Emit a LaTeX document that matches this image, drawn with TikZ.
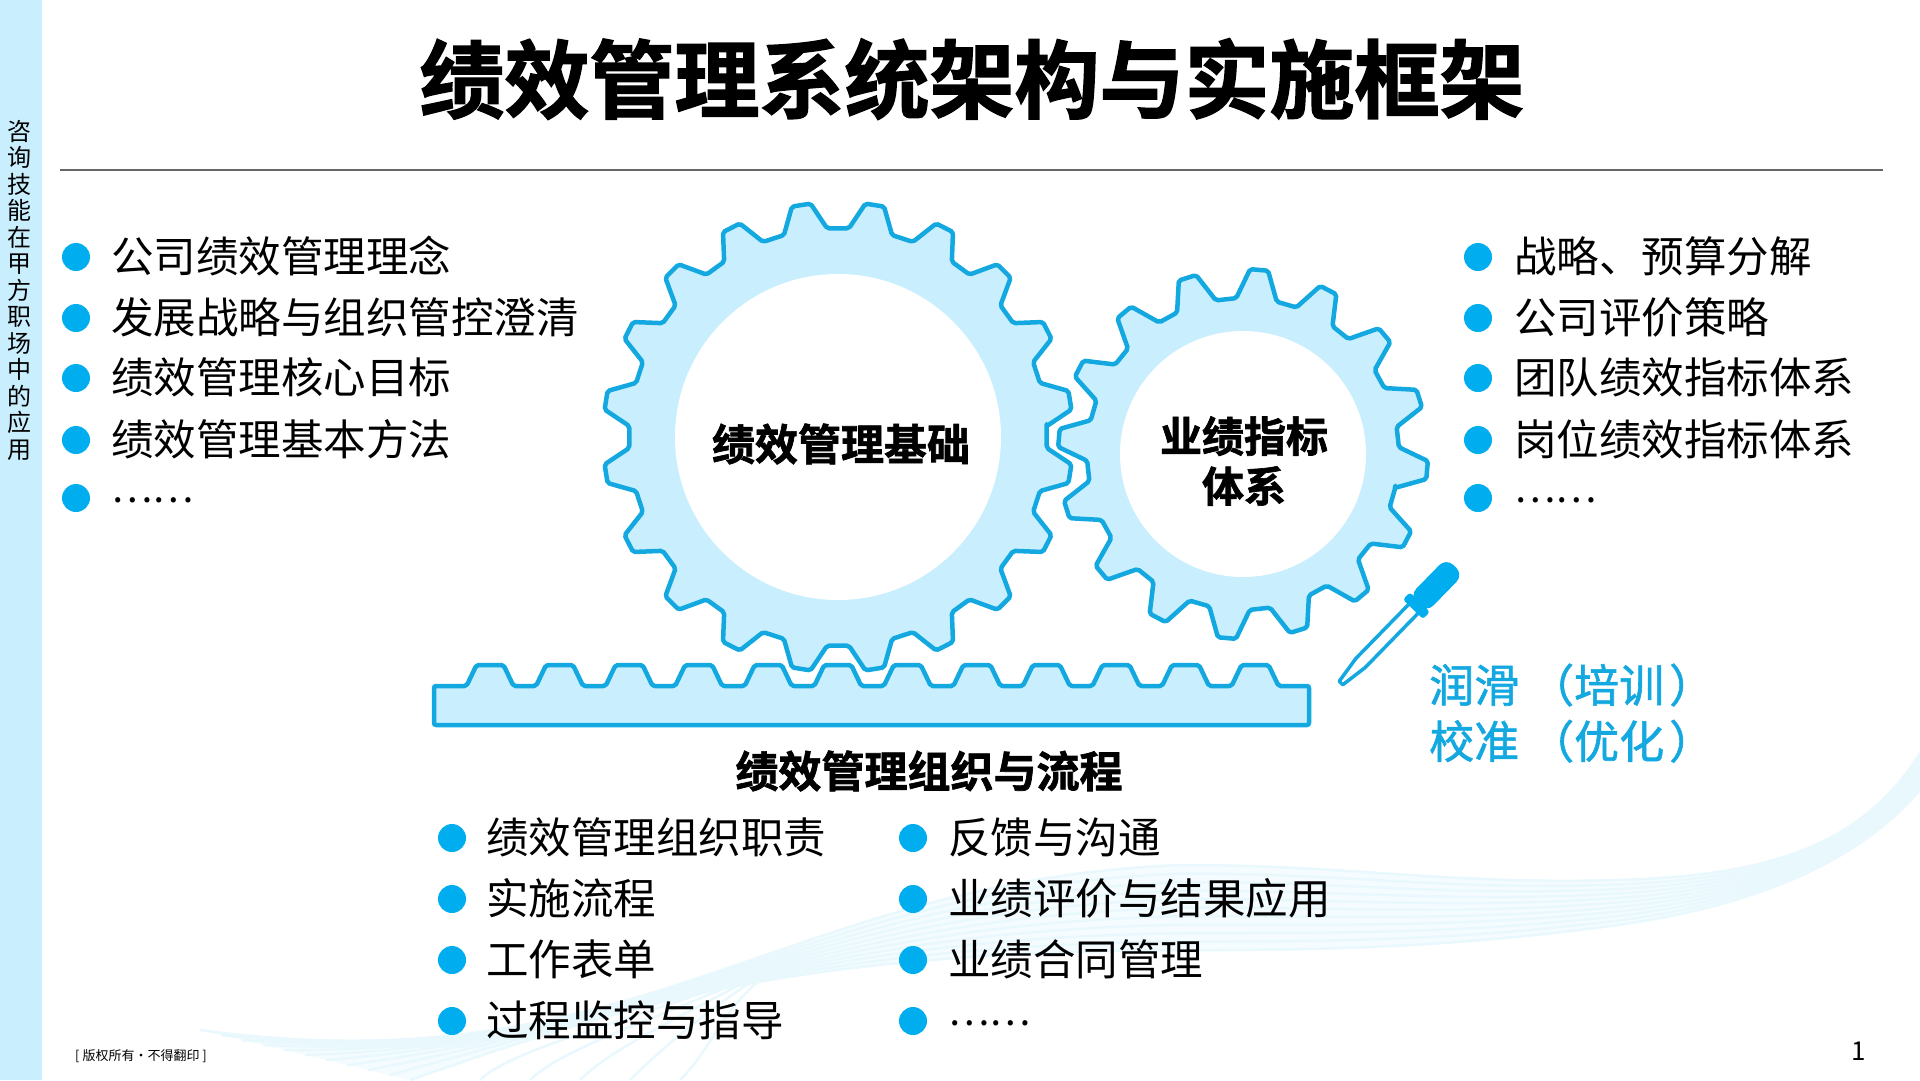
\documentclass[tikz,border=0pt]{standalone}
\usepackage{fontspec}
\setmainfont{Noto Sans CJK SC}
\newfontfamily\heavyfont[FakeBold=1.6]{Noto Sans CJK SC Bold}
\newfontfamily\notefont[FakeBold=1.3]{Noto Sans CJK SC}
\usetikzlibrary{positioning,calc}
\definecolor{perfblue}{HTML}{00AEEF}
\definecolor{gearline}{HTML}{14A8E0}
\definecolor{gearfill}{HTML}{C9EFFE}
\definecolor{wavefill}{HTML}{F5FCFF}
\definecolor{wavestrand}{HTML}{E8F8FD}
\newcommand{\perfdots}{\raisebox{11pt}{\fontsize{39}{39}\selectfont ……}}
\tikzset{
  perf bullet/.style={circle, fill=perfblue, inner sep=0pt, minimum size=28pt},
  perf item/.style={inner sep=0pt, font=\fontsize{42.5}{42.5}\selectfont, text height=36pt, text depth=6pt},
  perf heading/.style={inner sep=0pt, font=\fontsize{43}{43}\selectfont\heavyfont},
  perf note/.style={inner sep=0pt, anchor=west, text=gearline, font=\fontsize{45}{45}\selectfont\notefont},
  gear edge/.style={draw=gearline, fill=gearfill, line width=4.5pt, line join=round, rounded corners=2pt},
  gear core/.style={circle, fill=white, inner sep=0pt},
  dropper glass/.style={draw=gearline, fill=white, line width=3.5pt, line join=round},
  dropper bulb/.style={fill=perfblue, rounded corners=3pt},
  wave strand/.style={draw=wavestrand, line width=2.5pt},
}
\begin{document}
\begin{tikzpicture}[x=1pt, y=-1pt]
  \useasboundingbox (0,0) rectangle (1920,1080);
  % background wave
  \coordinate (a0) at (200,1030);  \coordinate (b0) at (410,1080);
  \coordinate (a1) at (640,1090);  \coordinate (b1) at (640,1000);
  \coordinate (a2) at (780,880);   \coordinate (b2) at (800,950);
  \coordinate (a3) at (1182,865);  \coordinate (b3) at (1206,950);
  \coordinate (a4) at (1350,865);  \coordinate (b4) at (1350,950);
  \coordinate (a5) at (1450,885);  \coordinate (b5) at (1470,945);
  \coordinate (a6) at (1618,880);  \coordinate (b6) at (1618,925);
  \coordinate (a7) at (1760,876);  \coordinate (b7) at (1760,905);
  \coordinate (a8) at (1860,850);  \coordinate (b8) at (1860,860);
  \coordinate (a9) at (1920,753);  \coordinate (b9) at (1920,790);
  \fill[wavefill] (a0) .. controls (a1) and (a2) .. (a3) .. controls (a4) and (a5) .. (a6) .. controls (a7) and (a8) .. (a9)
    -- (b9) .. controls (b8) and (b7) .. (b6) .. controls (b5) and (b4) .. (b3) .. controls (b2) and (b1) .. (b0) -- cycle;
  \foreach \t in {0,0.1,...,1.01}
    \draw[wave strand] ($(a0)!\t!(b0)$) .. controls ($(a1)!\t!(b1)$) and ($(a2)!\t!(b2)$) .. ($(a3)!\t!(b3)$)
      .. controls ($(a4)!\t!(b4)$) and ($(a5)!\t!(b5)$) .. ($(a6)!\t!(b6)$)
      .. controls ($(a7)!\t!(b7)$) and ($(a8)!\t!(b8)$) .. ($(a9)!\t!(b9)$);
  \foreach \e in {480,530,580,630,680}
    \draw[wave strand] (800,950) .. controls (720,1000) and (\e+40,1040) .. (\e,1080);

  % side bar and title
  \fill[gearfill] (0,0) rectangle (42,1080);
  \node (sidelabel) [inner sep=0pt, align=center, font=\fontsize{24}{26.5}\selectfont] at (19,290)
    {咨\\询\\技\\能\\在\\甲\\方\\职\\场\\中\\的\\应\\用};
  \node (title) [inner sep=0pt, font=\fontsize{85}{85}\selectfont\heavyfont] at (972,79) {绩效管理系统架构与实施框架};
  \coordinate (ruleleft) at (60,170);
  \coordinate (ruleright) at (1883,170);
  \draw[black!60, line width=1.5pt] (ruleleft) -- (ruleright);

  % big gear
  \begin{scope}[shift={(838,437)}]
    \draw[gear edge] (3:209pt) \foreach \n [evaluate=\n as \a using 9+18*\n] in {0,...,19} {
      -- ({\a-2.3}:235pt) -- ({\a+2.3}:235pt) -- ({\a+6}:209pt) -- ({\a+12}:209pt) } -- cycle;
  \end{scope}
  \node (basecore) [gear core, minimum size=326pt] at (838,437) {};
  \node (baselabel) [perf heading] at (841,444) {绩效管理基础};

  % small gear
  \begin{scope}[shift={(1243,454)}]
    \draw[gear edge] (-12.5:156pt) \foreach \n [evaluate=\n as \a using -5+22.5*\n] in {0,...,15} {
      -- ({\a-2.8}:185pt) -- ({\a+2.8}:185pt) -- ({\a+7.5}:156pt) -- ({\a+15}:156pt) } -- cycle;
  \end{scope}
  \node (kpicore) [gear core, minimum size=246pt] at (1243,454) {};
  \node (kpilabel) [perf heading, font=\fontsize{42}{50}\selectfont\heavyfont, align=center] at (1244,461) {业绩指标\\体系};

  % rack
  \draw[gear edge] (434,686) \foreach \n [evaluate=\n as \c using 490+69.55*\n] in {0,...,11} {
      -- ({\c-23.5},686) -- ({\c-13.5},665) -- ({\c+13.5},665) -- ({\c+23.5},686) }
    -- (1309,686) -- (1309,725) -- (434,725) -- cycle;
  \node (racklabel) [perf heading] at (929,771) {绩效管理组织与流程};

  % dropper
  \begin{scope}[shift={(1341,683)}, rotate=45.7]
    \draw[dropper glass] (0,-2.5) -- (28,-6.5) -- (106,-6.5) -- (106,6.5) -- (28,6.5) -- (0,2.5) -- cycle;
    \fill[dropper bulb] (103,-14) rectangle (113,14);
    \fill[perfblue, rounded corners=10pt] (110,-12) -- (163,-12) -- (163,12) -- (110,12) -- cycle;
  \end{scope}
  \node (lubelabel) [perf note] at (1429,685) {润滑\hspace{10pt}（培训\hspace{5pt}）};
  \node (tunelabel) [perf note, below=13pt of lubelabel.south west, anchor=north west] {校准\hspace{10pt}（优化\hspace{5pt}）};

  % left list
  \foreach \n/\y/\txt in {1/257/公司绩效管理理念, 2/318/发展战略与组织管控澄清, 3/378/绩效管理核心目标, 4/440/绩效管理基本方法, 5/498/\perfdots} {
    \node (lbul\n) [perf bullet] at (76,\y) {};
    \node (ltxt\n) [perf item, right=21pt of lbul\n] {\txt};
  }
  % right list
  \foreach \n/\y/\txt in {1/257/战略、预算分解, 2/318/公司评价策略, 3/378/团队绩效指标体系, 4/440/岗位绩效指标体系, 5/498/\perfdots} {
    \node (rbul\n) [perf bullet] at (1478,\y) {};
    \node (rtxt\n) [perf item, right=22pt of rbul\n] {\txt};
  }
  % bottom lists
  \foreach \n/\y/\txt in {1/838/绩效管理组织职责, 2/899/实施流程, 3/960/工作表单, 4/1021/过程监控与指导} {
    \node (obul\n) [perf bullet] at (452,\y) {};
    \node (otxt\n) [perf item, right=20pt of obul\n] {\txt};
  }
  \foreach \n/\y/\txt in {1/838/反馈与沟通, 2/899/业绩评价与结果应用, 3/960/业绩合同管理, 4/1021/\perfdots} {
    \node (fbul\n) [perf bullet] at (913,\y) {};
    \node (ftxt\n) [perf item, right=21pt of fbul\n] {\txt};
  }

  % footer
  \node (footnote) [inner sep=0pt, anchor=west, font=\fontsize{13}{14}\selectfont] at (75,1056) {[ 版权所有·不得翻印 ]};
  \node (pageno) [inner sep=0pt, font=\fontsize{26}{26}\selectfont] at (1859,1051) {1};
\end{tikzpicture}
\end{document}
